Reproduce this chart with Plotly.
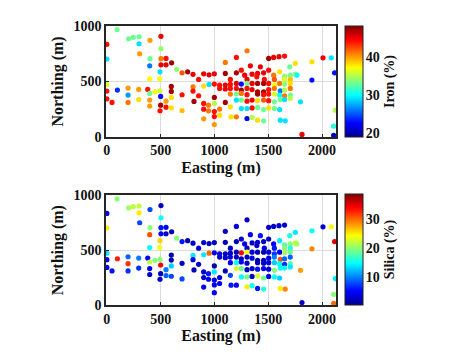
import plotly.graph_objects as go

easting = [95, 0, 203, 246, 299, 299, 401, 503, 0, 305, 401, 503, 503, 550, 398, 503, 550, 602, 494, 491,
           398, 649, 699, 751, 801, 853, 900, 950, 950, 999, 999, 0, 0, 0, 48, 98, 197, 197, 197, 296,
           296, 380, 398, 447, 494, 500, 398, 398, 500, 494, 550, 550, 599, 599, 599, 599, 699, 699, 801, 801,
           810, 853, 900, 900, 900, 900, 945, 945, 999, 999, 999, 999, 999, 1101, 1204, 1303, 1504, 1550, 1600, 1652,
           1334, 1427, 1700, 1752, 1101, 1204, 1250, 1281, 1350, 1401, 1457, 1504, 1550, 1606, 1652, 1705, 1752, 1148, 1303, 1394,
           1464, 1557, 1652, 1705, 1048, 1101, 1148, 1204, 1250, 1303, 1350, 1401, 1457, 1504, 1557, 1606, 1652, 1705, 1048, 1101,
           1148, 1204, 1250, 1303, 1350, 1401, 1457, 1504, 1557, 1612, 1652, 1705, 1148, 1204, 1250, 1303, 1401, 1457, 1504, 1557,
           1606, 1652, 1705, 1101, 1204, 1250, 1303, 1350, 1401, 1457, 1504, 1557, 1612, 1652, 1705, 1800, 1048, 1148, 1250, 1303,
           1350, 1401, 1457, 1504, 1557, 1606, 1048, 1154, 1204, 1303, 1350, 1401, 1457, 1612, 1658, 2009, 2086, 1906, 2117, 1906,
           1767, 2124, 2108, 2108, 1814]
northing = [968, 835, 885, 898, 903, 840, 871, 907, 702, 750, 705, 795, 705, 708, 641, 650, 650, 668, 587, 524,
            524, 609, 578, 587, 564, 518, 569, 473, 560, 476, 569, 473, 413, 343, 311, 422, 440, 377, 311, 428,
            337, 428, 392, 407, 416, 365, 332, 278, 286, 235, 322, 268, 356, 455, 410, 262, 238, 380, 452, 413,
            320, 371, 458, 302, 250, 163, 286, 235, 356, 302, 228, 183, 112, 672, 717, 777, 708, 717, 723, 729,
            641, 632, 632, 663, 572, 578, 602, 557, 566, 572, 578, 602, 557, 587, 548, 557, 566, 518, 518, 542,
            518, 518, 518, 518, 467, 467, 473, 482, 476, 482, 482, 482, 482, 482, 467, 482, 476, 482, 437, 432,
            437, 437, 422, 437, 427, 407, 407, 427, 437, 416, 422, 437, 386, 386, 392, 381, 386, 381, 386, 386,
            377, 371, 377, 311, 332, 332, 322, 332, 327, 332, 327, 316, 337, 337, 347, 316, 251, 271, 256, 256,
            261, 266, 246, 261, 256, 246, 196, 181, 181, 166, 176, 151, 145, 151, 145, 713, 713, 677, 578, 512,
            557, 241, 97, 15, 22]
iron = [33, 44, 33, 33, 33, 29, 40, 45, 29, 40, 33, 34, 41, 44, 26, 45, 45, 47, 29, 37,
        37, 34, 42, 47, 45, 44, 45, 29, 45, 44, 45, 36, 44, 44, 44, 24, 40, 27, 41, 40,
        38, 44, 33, 37, 36, 23, 40, 40, 47, 44, 40, 44, 38, 47, 47, 38, 39, 44, 41, 44,
        47, 44, 38, 44, 44, 40, 41, 41, 47, 35, 44, 44, 40, 41, 44, 41, 47, 45, 45, 44,
        45, 45, 33, 38, 47, 47, 44, 45, 45, 45, 45, 44, 41, 38, 34, 33, 34, 44, 45, 44,
        44, 42, 36, 39, 44, 45, 44, 45, 23, 33, 45, 47, 47, 44, 37, 41, 34, 38, 44, 45,
        44, 44, 47, 44, 45, 47, 47, 44, 41, 26, 35, 41, 41, 33, 41, 44, 47, 44, 44, 36,
        30, 41, 33, 47, 29, 33, 44, 45, 38, 42, 44, 33, 33, 29, 35, 29, 41, 38, 29, 29,
        44, 33, 33, 38, 33, 29, 38, 38, 41, 22, 35, 38, 33, 29, 29, 45, 29, 38, 23, 23,
        30, 35, 31, 21, 45]
silica = [20, 5, 21, 22, 22, 25, 8, 3, 25, 8, 20, 15, 6, 5, 31, 5, 3, 2, 26, 24,
          15, 20, 6, 2, 3, 4, 3, 30, 3, 4, 3, 14, 5, 5, 6, 33, 9, 32, 7, 10,
          7, 5, 22, 20, 20, 34, 4, 3, 2, 3, 10, 9, 13, 2, 2, 8, 8, 3, 14, 4,
          2, 3, 14, 3, 3, 5, 6, 5, 2, 14, 4, 4, 5, 3, 4, 3, 3, 3, 3, 3,
          5, 6, 16, 14, 2, 2, 3, 4, 3, 3, 3, 3, 5, 14, 18, 20, 22, 3, 3, 3,
          4, 6, 20, 16, 4, 3, 3, 3, 34, 24, 3, 2, 2, 4, 7, 5, 21, 19, 3, 3,
          4, 3, 2, 3, 4, 2, 2, 4, 10, 31, 9, 9, 4, 15, 5, 3, 2, 3, 4, 13,
          15, 7, 18, 2, 23, 19, 3, 3, 6, 4, 4, 20, 15, 15, 14, 28, 4, 8, 15, 19,
          3, 23, 19, 4, 15, 13, 5, 6, 5, 25, 15, 6, 16, 25, 29, 3, 24, 15, 35, 29,
          21, 14, 20, 30, 3]

x_ticks = [0, 500, 1000, 1500, 2000]
y_ticks = [0, 500, 1000]

jet = [[0.0, "#00008F"], [0.125, "#0000FF"], [0.375, "#00FFFF"],
       [0.625, "#FFFF00"], [0.875, "#FF0000"], [1.0, "#800000"]]

FONT = "Liberation Serif, Times New Roman, serif"
TXT = "#111"


def cbar(y, yanchor, length, ticks_, title):
    return dict(x=1.039, xanchor="left", xpad=0, y=y, yanchor=yanchor, len=length, ypad=0,
                thickness=18, outlinecolor="#222", outlinewidth=1,
                tickvals=ticks_, ticks="outside", ticklen=0,
                tickfont=dict(family=FONT, size=14, color=TXT, weight="bold"),
                title=dict(text=title, side="right",
                           font=dict(family=FONT, size=14, color=TXT, weight="bold")))


fig = go.Figure()
fig.add_trace(go.Scatter(
    x=easting, y=northing, mode="markers", cliponaxis=False, xaxis="x", yaxis="y",
    marker=dict(size=5.2, color=iron, colorscale=jet, cmin=19, cmax=48,
                colorbar=cbar(1, "top", 0.399, [20, 30, 40], "Iron (%)")),
    showlegend=False))
fig.add_trace(go.Scatter(
    x=easting, y=northing, mode="markers", cliponaxis=False, xaxis="x2", yaxis="y2",
    marker=dict(size=5.2, color=silica, colorscale=jet, cmin=0.5, cmax=38.7,
                colorbar=cbar(0, "bottom", 0.397, [10, 20, 30], "Silica (%)")),
    showlegend=False))

axis_common = dict(showline=True, linecolor="#262626", linewidth=1.5, mirror=True,
                   showgrid=True, gridcolor="#dcdcdc", gridwidth=1, zeroline=False,
                   ticks="inside", ticklen=3, tickcolor="#262626", automargin=False,
                   tickfont=dict(family=FONT, size=14, color=TXT, weight="bold"))
xt = dict(text="Easting (m)", standoff=4, font=dict(family=FONT, size=16, color=TXT, weight="bold"))
yt = dict(text="Northing (m)", standoff=6, font=dict(family=FONT, size=16, color=TXT, weight="bold"))

fig.update_layout(
    width=474, height=355, paper_bgcolor="white", plot_bgcolor="white",
    margin=dict(l=98, r=146, t=18, b=58, autoexpand=False),
    font=dict(family=FONT, color=TXT),
    xaxis=dict(domain=[0, 1], anchor="y", range=[-8, 2130], tickvals=x_ticks, title=xt, **axis_common),
    yaxis=dict(domain=[0.6025, 1], anchor="x", range=[0, 1000], tickvals=y_ticks, title=yt, **axis_common),
    xaxis2=dict(domain=[0, 1], anchor="y2", range=[-8, 2130], tickvals=x_ticks, title=xt, **axis_common),
    yaxis2=dict(domain=[0, 0.393], anchor="x2", range=[0, 1000], tickvals=y_ticks, title=yt, **axis_common),
)

fig.write_html("out.html")
